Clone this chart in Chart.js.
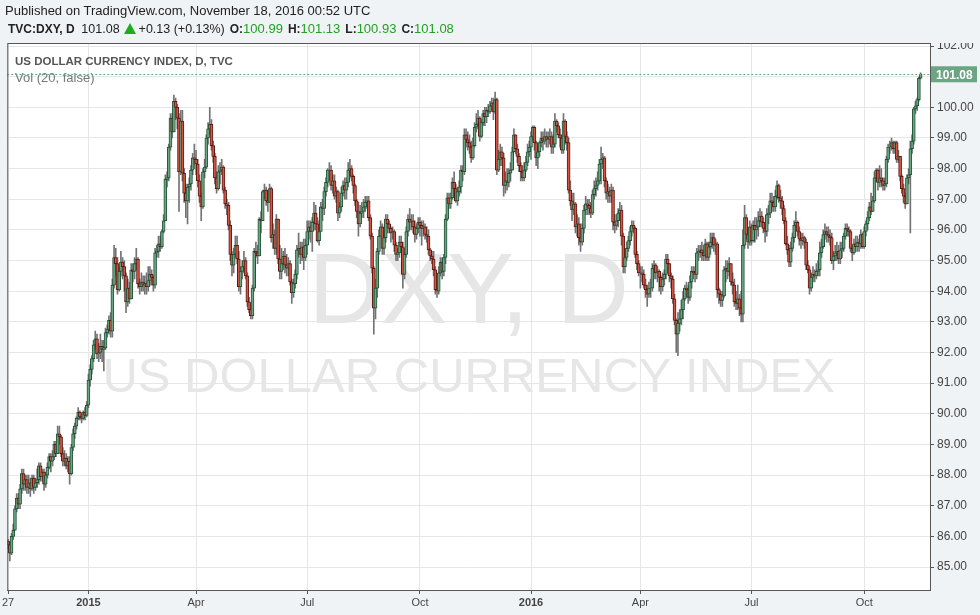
<!DOCTYPE html>
<html>
<head>
<meta charset="utf-8">
<script src="https://cdn.jsdelivr.net/npm/chart.js@4.4.0/dist/chart.umd.min.js"></script>
<style>
  html, body { margin: 0; padding: 0; background: #f0f3f6; }
  #wrap { position: relative; width: 980px; height: 615px; overflow: hidden; }
  #dxyChart { position: absolute; left: 0; top: 0; }
  .hdr { position: absolute; left: 5px; font-family: "Liberation Sans", Arial, sans-serif; font-size: 13px; color: #222; white-space: nowrap; }
  .l1 { top: 3px; }
  .l2 { top: 21px; left: 8px; font-size: 12px; }
  .l2 b { font-weight: bold; }
  .v { font-size: 12.5px; }
  .g { color: #22a022; font-size: 13px; }
  .tri { display: inline-block; width: 0; height: 0; border-left: 6px solid transparent; border-right: 6px solid transparent; border-bottom: 11px solid #1faa1f; margin: 0 3px 0 4px; vertical-align: -1px; }
  .sp { margin-left: 5px; }
</style>
</head>
<body>
<div id="wrap">
  <canvas id="dxyChart" width="980" height="615"></canvas>
  <div class="hdr l1">Published on TradingView.com, November 18, 2016 00:52 UTC</div>
  <div class="hdr l2"><b>TVC:DXY, D</b>&nbsp; <span class="v">101.08</span><span class="tri"></span><span class="v">+0.13 (+0.13%)</span><span class="sp"><b>O:</b><span class="g">100.99</span></span><span class="sp"><b>H:</b><span class="g">101.13</span></span><span class="sp"><b>L:</b><span class="g">100.93</span></span><span class="sp"><b>C:</b><span class="g">101.08</span></span></div>
</div>
<script>
// daily candles, Oct 27 2014 .. Nov 17 2016 (weekdays, no Dec 25 / Jan 1)
const firstOpen = 85.85;

const closes = [
  // 2014 Oct, Nov, Dec
  85.72, 85.45, 86.00, 86.20, 86.90,
  87.25, 87.05, 87.55, 88.05, 87.70, 87.85, 87.60, 87.75, 87.55, 87.90, 87.60, 87.75, 87.85, 88.30, 87.95, 88.10, 87.70, 88.00, 88.25, 88.60,
  88.45, 88.60, 89.00, 88.70, 89.35, 89.25, 88.70, 88.45, 88.55, 88.30, 88.45, 88.05, 88.90, 89.35, 89.60, 89.85, 90.05, 89.90, 89.85, 90.05, 89.95, 90.28,
  // 2015
  91.10, 91.45, 91.80, 92.25, 92.45, 91.95, 92.00, 92.20, 92.10, 92.15, 92.65, 92.75, 93.05, 92.70, 94.20, 95.10, 94.90, 94.05, 94.65, 94.95, 94.80,
  94.50, 93.65, 94.10, 93.75, 94.70, 94.65, 94.90, 95.05, 94.25, 94.15, 94.30, 94.20, 94.25, 94.15, 94.35, 94.55, 94.45, 94.20, 95.25, 95.30,
  95.55, 95.45, 95.95, 96.30, 97.65, 97.70, 98.70, 99.65, 99.20, 100.20, 100.00, 99.65, 97.90, 99.55, 97.85, 97.20, 96.95, 97.40, 97.50, 97.95, 98.35, 98.30,
  98.15, 97.60, 97.10, 96.75, 97.90, 98.05, 99.00, 99.30, 99.45, 98.75, 98.40, 97.70, 97.35, 97.90, 97.95, 98.05, 97.30, 96.85, 96.80, 96.15, 95.20, 94.85,
  95.20, 95.50, 95.05, 94.15, 94.65, 94.80, 95.00, 94.50, 93.65, 93.40, 93.20, 94.10, 95.30, 95.25, 95.15, 96.35, 96.30, 97.25, 97.30, 96.95, 96.90,
  97.35, 95.75, 95.85, 95.40, 96.35, 95.05, 94.65, 94.90, 95.15, 94.85, 94.75, 94.90, 94.30, 93.95, 94.25, 94.55, 95.35, 95.40, 95.20, 95.45, 95.10, 95.50,
  95.95, 96.10, 95.95, 96.25, 96.55, 96.20, 95.65, 95.95, 96.75, 96.70, 97.25, 97.55, 97.95, 97.95, 97.45, 97.60, 97.10, 97.25, 96.55, 96.75, 97.20, 97.45, 97.30,
  97.55, 97.95, 98.00, 97.75, 97.45, 96.95, 96.60, 96.20, 96.55, 96.60, 96.75, 96.90, 96.95, 96.40, 95.80, 94.75, 93.45, 94.10, 95.30, 95.80, 96.10,
  95.40, 95.75, 96.35, 96.20, 96.05, 95.90, 95.95, 95.50, 95.20, 95.25, 95.60, 95.45, 94.55, 95.20, 95.95, 96.35, 96.25, 96.30, 96.10, 95.85, 96.05, 96.25,
  96.15, 96.05, 96.10, 95.85, 95.80, 95.35, 95.15, 95.05, 94.70, 94.05, 94.00, 94.60, 94.95, 94.65, 95.10, 96.35, 97.05, 96.85, 97.05, 97.55, 97.35, 96.95,
  97.25, 97.40, 97.95, 97.90, 99.10, 98.95, 98.85, 98.70, 98.35, 98.75, 99.35, 99.45, 99.65, 99.05, 99.50, 99.80, 99.70, 99.90, 99.85, 100.05, 100.15,
  99.85, 100.25, 97.95, 98.30, 98.55, 98.35, 97.45, 97.60, 97.55, 97.85, 97.95, 98.55, 99.10, 98.65, 98.40, 98.10, 97.90, 97.70, 97.95, 98.20, 98.55, 98.70,
  // 2016
  99.05, 99.35, 98.85, 98.35, 98.55, 98.85, 99.00, 98.90, 99.05, 98.95, 98.95, 99.05, 98.70, 98.80, 99.55, 99.40, 99.10, 99.00, 98.60, 99.55,
  99.05, 98.85, 97.30, 96.95, 96.65, 96.85, 96.10, 96.20, 95.75, 95.60, 96.05, 96.65, 96.85, 96.80, 96.70, 96.55, 97.15, 97.35, 97.45, 97.60, 98.15,
  98.30, 98.35, 97.60, 97.20, 97.25, 97.10, 97.30, 96.25, 96.15, 96.30, 96.55, 96.65, 95.80, 94.80, 95.10, 95.40, 95.65, 95.95, 96.15, 96.05, 95.20, 94.90, 94.60,
  94.60, 94.55, 94.20, 94.05, 93.90, 94.10, 94.10, 94.75, 94.85, 94.60, 94.65, 94.45, 94.15, 94.40, 94.55, 95.05, 94.90, 94.50, 94.40, 93.75, 93.05,
  92.60, 92.95, 93.10, 93.40, 93.75, 94.10, 94.05, 93.80, 94.30, 94.65, 94.60, 94.55, 95.25, 95.30, 95.35, 95.25, 95.15, 95.55, 95.10, 95.45, 95.60, 95.75,
  95.50, 95.55, 94.05, 93.90, 93.70, 93.85, 94.70, 94.75, 94.65, 94.90, 94.30, 94.20, 93.65, 93.60, 93.75, 93.45, 93.25, 95.50, 96.40, 95.85, 95.60, 96.10,
  95.65, 96.15, 96.00, 96.10, 96.30, 96.45, 96.25, 96.05, 95.95, 96.50, 96.55, 96.95, 96.90, 96.75, 97.10, 97.45, 97.05, 96.95, 96.70, 96.30, 95.55,
  95.35, 94.95, 95.40, 95.75, 96.15, 96.25, 95.95, 95.70, 95.65, 95.75, 95.60, 94.85, 94.70, 94.10, 94.45, 94.55, 94.50, 94.65, 94.70, 95.25, 95.45, 95.85, 95.95,
  95.85, 95.80, 95.75, 95.00, 95.15, 95.25, 95.30, 95.05, 95.35, 95.40, 95.80, 96.05, 96.00, 95.95, 95.40, 95.25, 95.55, 95.45, 95.60, 95.55, 95.85, 95.45,
  95.95, 96.20, 96.40, 96.75, 96.60, 96.95, 97.70, 97.95, 97.55, 97.70, 97.60, 97.45, 97.50, 98.30, 98.70, 98.70, 98.85, 98.65, 98.85, 98.30, 98.40,
  97.75, 97.35, 97.10, 96.85, 97.70, 97.80, 98.65, 98.90, 99.95, 100.05, 100.25, 100.95, 101.08
];

const highs = [
  85.9, 85.8, 86.1, 86.4, 87.0,
  87.4, 87.4, 87.7, 88.2, 88.2, 88.0, 88.0, 88.0, 87.9, 88.0, 88.0, 87.9, 88.2, 88.4, 88.4, 88.2, 88.2, 88.1, 88.4, 88.7,
  88.7, 88.8, 89.1, 89.1, 89.6, 89.6, 89.3, 88.9, 88.8, 88.7, 88.6, 88.6, 89.0, 89.5, 89.7, 89.9, 90.2, 90.1, 90.0, 90.1, 90.2, 90.4,
  91.3, 91.6, 91.9, 92.4, 92.7, 92.6, 92.3, 92.6, 92.4, 92.4, 92.8, 92.9, 93.2, 93.3, 94.4, 95.5, 95.4, 95.1, 94.8, 95.3, 95.1,
  95.0, 94.6, 94.4, 94.3, 94.9, 94.9, 95.1, 95.4, 95.1, 94.4, 94.6, 94.5, 94.5, 94.6, 94.8, 94.8, 94.7, 94.5, 95.4, 95.5,
  95.8, 95.8, 96.0, 96.5, 97.8, 97.9, 98.8, 99.8, 99.8, 100.4, 100.3, 100.1, 99.8, 99.9, 99.9, 98.0, 97.5, 97.5, 97.7, 98.1, 98.5, 98.8,
  98.6, 98.3, 97.8, 97.2, 98.0, 98.3, 99.1, 99.5, 100.0, 99.6, 98.9, 98.5, 97.9, 98.1, 98.2, 98.3, 98.1, 97.4, 97.0, 96.9, 96.3, 95.3,
  95.4, 95.8, 95.8, 95.3, 94.8, 95.0, 95.3, 95.1, 94.6, 93.8, 93.6, 94.2, 95.4, 95.6, 95.5, 96.4, 96.6, 97.3, 97.5, 97.4, 97.3,
  97.5, 97.4, 96.2, 96.0, 96.5, 96.3, 95.5, 95.4, 95.3, 95.4, 95.2, 95.1, 95.0, 94.4, 94.4, 94.7, 95.5, 95.9, 95.6, 95.6, 95.7, 95.7,
  96.3, 96.3, 96.3, 96.4, 96.9, 96.8, 96.4, 96.3, 96.9, 97.0, 97.4, 97.7, 98.0, 98.2, 98.1, 97.8, 97.8, 97.4, 97.3, 96.9, 97.4, 97.6, 97.7,
  97.7, 98.2, 98.3, 98.1, 97.8, 97.5, 97.0, 96.9, 96.8, 96.9, 97.0, 97.1, 97.1, 97.1, 96.5, 95.9, 94.8, 94.4, 95.4, 96.0, 96.3,
  96.2, 95.9, 96.5, 96.5, 96.3, 96.1, 96.1, 96.0, 95.6, 95.4, 95.8, 95.8, 95.6, 95.4, 96.1, 96.5, 96.7, 96.5, 96.5, 96.3, 96.2, 96.4,
  96.4, 96.3, 96.3, 96.2, 96.1, 96.0, 95.4, 95.3, 95.3, 94.8, 94.5, 94.8, 95.1, 95.1, 95.2, 96.5, 97.2, 97.2, 97.2, 97.7, 97.9, 97.5,
  97.4, 97.6, 98.1, 98.1, 99.3, 99.3, 99.2, 99.1, 98.9, 99.0, 99.5, 99.8, 99.9, 99.7, 99.6, 99.9, 100.0, 100.0, 100.1, 100.2, 100.3,
  100.3, 100.5, 100.3, 98.6, 98.8, 98.7, 98.5, 97.9, 98.0, 98.0, 98.2, 98.7, 99.3, 99.1, 98.8, 98.5, 98.2, 98.1, 98.2, 98.4, 98.8, 98.9,
  99.2, 99.4, 99.4, 98.9, 98.7, 98.9, 99.2, 99.2, 99.3, 99.2, 99.2, 99.3, 99.2, 99.1, 99.8, 99.6, 99.5, 99.3, 99.1, 99.8,
  99.6, 99.2, 99.0, 97.6, 97.2, 97.2, 96.9, 96.5, 96.4, 96.2, 96.2, 96.8, 97.1, 97.0, 97.0, 96.9, 97.3, 97.6, 97.7, 97.9, 98.3,
  98.7, 98.5, 98.4, 97.7, 97.5, 97.4, 97.5, 97.4, 96.5, 96.5, 96.7, 96.9, 96.8, 95.9, 95.3, 95.6, 95.8, 96.1, 96.3, 96.3, 96.1, 95.3, 95.0,
  94.8, 94.8, 94.7, 94.4, 94.2, 94.3, 94.4, 94.9, 95.0, 94.9, 94.8, 94.7, 94.5, 94.6, 94.7, 95.2, 95.2, 94.9, 94.6, 94.5, 93.9,
  93.1, 93.3, 93.4, 93.7, 94.0, 94.2, 94.3, 94.2, 94.5, 94.8, 94.8, 94.8, 95.4, 95.5, 95.5, 95.6, 95.5, 95.7, 95.6, 95.6, 95.9, 95.9,
  95.9, 95.7, 95.6, 94.1, 94.0, 94.0, 94.8, 95.0, 95.0, 95.1, 94.9, 94.6, 94.4, 94.0, 94.2, 93.9, 94.0, 96.0, 96.8, 96.5, 96.0, 96.3,
  96.2, 96.3, 96.4, 96.4, 96.6, 96.7, 96.6, 96.4, 96.2, 96.7, 96.8, 97.2, 97.2, 97.1, 97.3, 97.6, 97.5, 97.3, 97.1, 96.8, 96.4,
  95.8, 95.5, 95.6, 95.9, 96.3, 96.6, 96.3, 96.1, 95.9, 95.9, 95.8, 95.7, 95.0, 94.8, 94.6, 94.8, 94.7, 94.9, 95.0, 95.6, 95.7, 96.0, 96.2,
  96.1, 96.1, 96.0, 95.9, 95.3, 95.5, 95.6, 95.5, 95.6, 95.6, 95.9, 96.2, 96.2, 96.1, 96.0, 95.5, 95.7, 95.8, 95.8, 95.7, 96.0, 95.9,
  96.1, 96.3, 96.6, 96.9, 97.2, 97.1, 97.9, 98.0, 98.0, 98.1, 98.0, 97.7, 97.7, 98.4, 98.8, 98.9, 99.0, 98.9, 98.9, 98.9, 98.6,
  98.4, 97.8, 97.5, 97.2, 97.8, 98.0, 98.9, 99.1, 100.0, 100.2, 100.3, 101.0, 101.13
];

const lows = [
  85.6, 85.2, 85.4, 85.9, 86.2,
  86.8, 86.9, 86.9, 87.4, 87.5, 87.5, 87.4, 87.4, 87.3, 87.5, 87.4, 87.5, 87.6, 87.7, 87.8, 87.8, 87.5, 87.6, 87.9, 88.2,
  88.1, 88.3, 88.5, 88.6, 88.7, 89.0, 88.6, 88.3, 88.3, 88.2, 88.1, 87.7, 88.0, 88.8, 89.2, 89.5, 89.8, 89.8, 89.7, 89.8, 89.8, 89.9,
  90.2, 90.9, 91.3, 91.7, 92.1, 91.8, 91.7, 91.8, 91.7, 91.4, 92.1, 92.5, 92.6, 92.5, 92.5, 94.1, 94.5, 93.9, 94.0, 94.5, 94.4,
  94.0, 93.3, 93.5, 93.6, 93.8, 94.3, 94.4, 94.7, 94.1, 93.9, 94.0, 94.0, 93.9, 93.9, 94.0, 94.2, 94.2, 94.0, 94.1, 95.1,
  95.1, 95.3, 95.4, 95.9, 96.3, 97.4, 97.6, 98.6, 99.0, 99.2, 99.6, 99.3, 96.6, 97.8, 97.6, 96.9, 96.4, 96.2, 96.9, 97.3, 97.8, 98.0,
  97.8, 97.4, 96.9, 96.3, 96.7, 97.7, 98.0, 98.8, 99.1, 98.6, 98.2, 97.5, 97.2, 97.3, 97.5, 97.8, 97.2, 96.7, 96.5, 96.0, 95.0, 94.5,
  94.6, 95.1, 94.9, 94.0, 93.9, 94.4, 94.6, 94.4, 93.5, 93.3, 93.1, 93.1, 94.0, 95.1, 94.9, 95.2, 95.9, 96.3, 97.0, 96.8, 96.6,
  96.9, 95.6, 95.4, 95.2, 95.2, 94.9, 94.4, 94.4, 94.7, 94.6, 94.5, 94.5, 94.2, 93.6, 93.8, 94.1, 94.4, 95.1, 94.9, 95.0, 94.7, 95.0,
  95.2, 95.7, 95.6, 95.3, 96.0, 96.0, 95.6, 95.5, 96.1, 96.3, 96.5, 97.1, 97.4, 97.6, 97.3, 97.2, 97.0, 96.9, 96.3, 96.4, 96.6, 97.1, 97.0,
  97.0, 97.4, 97.7, 97.6, 97.2, 96.8, 96.4, 95.8, 96.1, 96.4, 96.4, 96.6, 96.7, 96.3, 95.7, 94.6, 92.6, 93.1, 93.8, 95.2, 95.8,
  95.2, 95.2, 95.6, 95.9, 95.9, 95.6, 95.7, 95.3, 95.0, 95.0, 95.1, 95.3, 94.1, 94.4, 95.1, 95.8, 96.0, 96.0, 95.9, 95.6, 95.7, 95.9,
  95.8, 95.5, 95.8, 95.7, 95.6, 95.2, 95.0, 94.9, 94.5, 93.9, 93.8, 93.9, 94.5, 94.4, 94.5, 94.9, 96.3, 96.7, 96.7, 97.0, 97.2, 96.9,
  96.8, 97.1, 97.2, 97.6, 97.8, 98.7, 98.6, 98.5, 98.2, 98.3, 98.7, 99.2, 99.3, 98.9, 99.0, 99.4, 99.4, 99.5, 99.7, 99.8, 99.9,
  99.6, 99.8, 97.8, 97.9, 98.1, 98.1, 97.1, 97.2, 97.3, 97.4, 97.6, 98.0, 98.6, 98.5, 98.2, 97.9, 97.6, 97.6, 97.6, 97.9, 98.1, 98.4,
  98.3, 98.9, 98.6, 98.1, 98.0, 98.4, 98.7, 98.6, 98.8, 98.7, 98.7, 98.8, 98.5, 98.5, 98.7, 99.2, 99.0, 98.7, 98.5, 98.5,
  98.8, 98.6, 97.2, 96.8, 96.3, 96.5, 95.9, 95.8, 95.5, 95.3, 95.5, 95.9, 96.5, 96.5, 96.5, 96.4, 96.5, 97.0, 97.1, 97.3, 97.5,
  97.5, 98.0, 97.4, 97.0, 96.9, 96.9, 96.9, 96.0, 95.9, 96.0, 96.1, 96.3, 95.5, 94.6, 94.6, 95.0, 95.3, 95.5, 95.8, 95.9, 95.1, 94.7, 94.5,
  94.1, 94.3, 94.1, 93.8, 93.5, 93.8, 93.8, 94.0, 94.4, 94.4, 94.3, 94.0, 93.9, 94.0, 94.2, 94.4, 94.6, 94.3, 94.1, 93.6, 92.9,
  92.0, 91.9, 92.7, 92.9, 93.1, 93.7, 93.8, 93.6, 93.7, 94.1, 94.4, 94.3, 94.4, 95.0, 95.1, 95.0, 95.0, 95.0, 95.0, 95.0, 95.2, 95.4,
  95.3, 95.2, 93.8, 93.6, 93.5, 93.5, 93.8, 94.3, 94.4, 94.5, 94.2, 93.9, 93.5, 93.4, 93.4, 93.2, 93.0, 93.0, 95.4, 95.7, 95.4, 95.5,
  95.5, 95.6, 95.6, 95.7, 95.8, 96.1, 96.1, 95.9, 95.6, 95.8, 96.2, 96.4, 96.6, 96.6, 96.6, 97.0, 96.9, 96.7, 96.5, 96.2, 95.5,
  95.2, 94.8, 94.8, 95.3, 95.6, 96.0, 95.8, 95.5, 95.4, 95.5, 95.4, 94.7, 94.6, 93.9, 94.0, 94.3, 94.3, 94.4, 94.5, 94.5, 95.1, 95.4, 95.7,
  95.6, 95.6, 95.5, 94.9, 94.7, 95.0, 95.0, 94.9, 94.9, 95.1, 95.3, 95.7, 95.8, 95.8, 95.3, 95.0, 95.2, 95.3, 95.3, 95.3, 95.4, 95.4,
  95.4, 95.8, 96.0, 96.3, 96.5, 96.6, 96.9, 97.6, 97.3, 97.4, 97.4, 97.3, 97.3, 97.4, 98.2, 98.5, 98.6, 98.5, 98.5, 98.2, 98.2,
  97.6, 97.2, 96.9, 96.7, 96.9, 97.5, 95.9, 98.5, 98.8, 99.8, 99.9, 100.2, 100.93
];

const xTickDates = ["2014-10-27", "2015-01-02", "2015-04-01", "2015-07-01", "2015-10-01", "2016-01-04", "2016-04-01", "2016-07-01", "2016-10-03"];
const xTickLabels = ["27", "2015", "Apr", "Jul", "Oct", "2016", "Apr", "Jul", "Oct"];
const yTicks = [85, 86, 87, 88, 89, 90, 91, 92, 93, 94, 95, 96, 97, 98, 99, 100, 101, 102];
const lastPrice = 101.08;

// trading days
const dates = [];
const endDay = Date.UTC(2016, 10, 17);
for (let d = new Date(Date.UTC(2014, 9, 27)); d.getTime() <= endDay; d.setUTCDate(d.getUTCDate() + 1)) {
    const wd = d.getUTCDay();
    if (wd === 0 || wd === 6) continue;
    const iso = d.toISOString().slice(0, 10);
    const md = iso.slice(5);
    if (md === "12-25" || md === "01-01") continue;
    dates.push(iso);
}
if (dates.length !== closes.length) console.warn("length mismatch", dates.length, closes.length);

const labels = dates.concat(["", "", "", "", ""]); // right margin like TradingView

const opens = closes.map((c, i) => (i === 0 ? firstOpen : closes[i - 1]));
const upColor = "#6ba583", downColor = "#d75442";
const upBorder = "#225437", downBorder = "#5b1a13";
const wickColor = "#737375";

const bodyData = closes.map((c, i) => [opens[i], c]);
const wickData = closes.map((c, i) => [Math.min(lows[i], opens[i], c), Math.max(highs[i], opens[i], c)]);
const isUp = closes.map((c, i) => c >= opens[i]);

const tickIndex = {};
xTickDates.forEach((d, k) => { tickIndex[dates.indexOf(d)] = xTickLabels[k]; });
const tickPositions = Object.keys(tickIndex).map(Number);

const bgColor = "#f0f3f6";
const axisFont = "'Liberation Sans', Arial, sans-serif";

const tvDecor = {
    id: "tvDecor",
    beforeDraw(chart) {
        const { ctx, chartArea: a } = chart;
        ctx.save();
        ctx.fillStyle = "#ffffff";
        ctx.fillRect(a.left, a.top, a.right - a.left, a.bottom - a.top);
        ctx.restore();
    },
    beforeDatasetsDraw(chart) {
        const { ctx, chartArea: a } = chart;
        const cx = (a.left + a.right) / 2;
        ctx.save();
        ctx.fillStyle = "#e6e6e6";
        ctx.textAlign = "center";
        ctx.textBaseline = "alphabetic";
        ctx.font = "100px " + axisFont;
        let w = ctx.measureText("DXY, D").width;
        ctx.font = Math.round(100 * 320 / w) + "px " + axisFont;
        ctx.fillText("DXY, D", cx, 323);
        ctx.font = "50px " + axisFont;
        w = ctx.measureText("US DOLLAR CURRENCY INDEX").width;
        ctx.font = Math.round(50 * 730 / w) + "px " + axisFont;
        ctx.fillText("US DOLLAR CURRENCY INDEX", cx, 392);
        ctx.restore();
    },
    afterDatasetsDraw(chart) {
        const { ctx, chartArea: a, scales } = chart;
        const y = Math.round(scales.y.getPixelForValue(lastPrice)) + 0.5;
        ctx.save();
        ctx.fillStyle = "#555";
        ctx.font = "bold 11.5px " + axisFont;
        ctx.textBaseline = "alphabetic";
        ctx.fillText("US DOLLAR CURRENCY INDEX, D, TVC", 15, 65);
        ctx.fillStyle = "#777";
        ctx.font = "13px " + axisFont;
        ctx.fillText("Vol (20, false)", 15, 82);
        ctx.strokeStyle = "#6ba583";
        ctx.lineWidth = 1;
        ctx.setLineDash([2, 2]);
        ctx.beginPath();
        ctx.moveTo(a.left, y);
        ctx.lineTo(a.right, y);
        ctx.stroke();
        ctx.restore();
    },
    afterDraw(chart) {
        const { ctx, chartArea: a, scales } = chart;
        ctx.save();
        // hide labels spilling above the pane
        ctx.fillStyle = bgColor;
        ctx.fillRect(a.right + 1, 0, chart.width - a.right, a.top);
        ctx.strokeStyle = "#555";
        ctx.lineWidth = 1;
        ctx.strokeRect(a.left + 0.5, a.top + 0.5, a.right - a.left, a.bottom - a.top);
        const y = scales.y.getPixelForValue(lastPrice);
        ctx.fillStyle = "#6ba583";
        ctx.fillRect(a.right + 1, y - 8, 46, 16);
        ctx.fillStyle = "#ffffff";
        ctx.font = "bold 12px " + axisFont;
        ctx.textBaseline = "middle";
        ctx.fillText(lastPrice.toFixed(2), a.right + 6, y + 1);
        ctx.restore();
    }
};

new Chart(document.getElementById("dxyChart").getContext("2d"), {
    type: "bar",
    data: {
        labels: labels,
        datasets: [
            {
                label: "body",
                data: bodyData,
                grouped: false,
                order: 0,
                barThickness: 3,
                borderWidth: 1,
                borderSkipped: false,
                backgroundColor: isUp.map(u => (u ? upColor : downColor)),
                borderColor: isUp.map(u => (u ? upBorder : downBorder)),
            },
            {
                label: "wick",
                data: wickData,
                grouped: false,
                order: 1,
                barThickness: 1,
                borderWidth: 0,
                backgroundColor: wickColor,
            },
        ],
    },
    options: {
        responsive: false,
        animation: false,
        layout: { padding: { left: 6, top: 43, right: 0, bottom: 0 } },
        plugins: {
            legend: { display: false },
            tooltip: { enabled: false },
        },
        scales: {
            x: {
                type: "category",
                offset: true,
                grid: { color: "#e6e6e6", offset: false, tickLength: 4, tickColor: "#555" },
                border: { display: true, color: "#555" },
                ticks: {
                    autoSkip: false,
                    maxRotation: 0,
                    padding: 2,
                    color: "#444",
                    font: (ctx) => ({
                        family: axisFont,
                        size: 11,
                        weight: ctx.tick && /^\d{4}$/.test(tickIndex[ctx.tick.value] || "") ? "bold" : "normal",
                    }),
                    callback: (v) => tickIndex[v] || "",
                },
                afterBuildTicks: (s) => { s.ticks = tickPositions.map(v => ({ value: v })); },
                afterFit: (s) => { s.height = 25; },
            },
            y: {
                position: "right",
                min: 84.25,
                max: 102.1,
                grid: { color: "#e6e6e6", tickLength: 4, tickColor: "#555" },
                border: { display: true, color: "#555" },
                ticks: {
                    padding: 3,
                    color: "#444",
                    font: { family: axisFont, size: 12 },
                    callback: (v) => Number(v).toFixed(2),
                },
                afterBuildTicks: (s) => { s.ticks = yTicks.map(v => ({ value: v })); },
                afterFit: (s) => { s.width = 50; },
            },
        },
    },
    plugins: [tvDecor],
});
</script>
</body>
</html>
